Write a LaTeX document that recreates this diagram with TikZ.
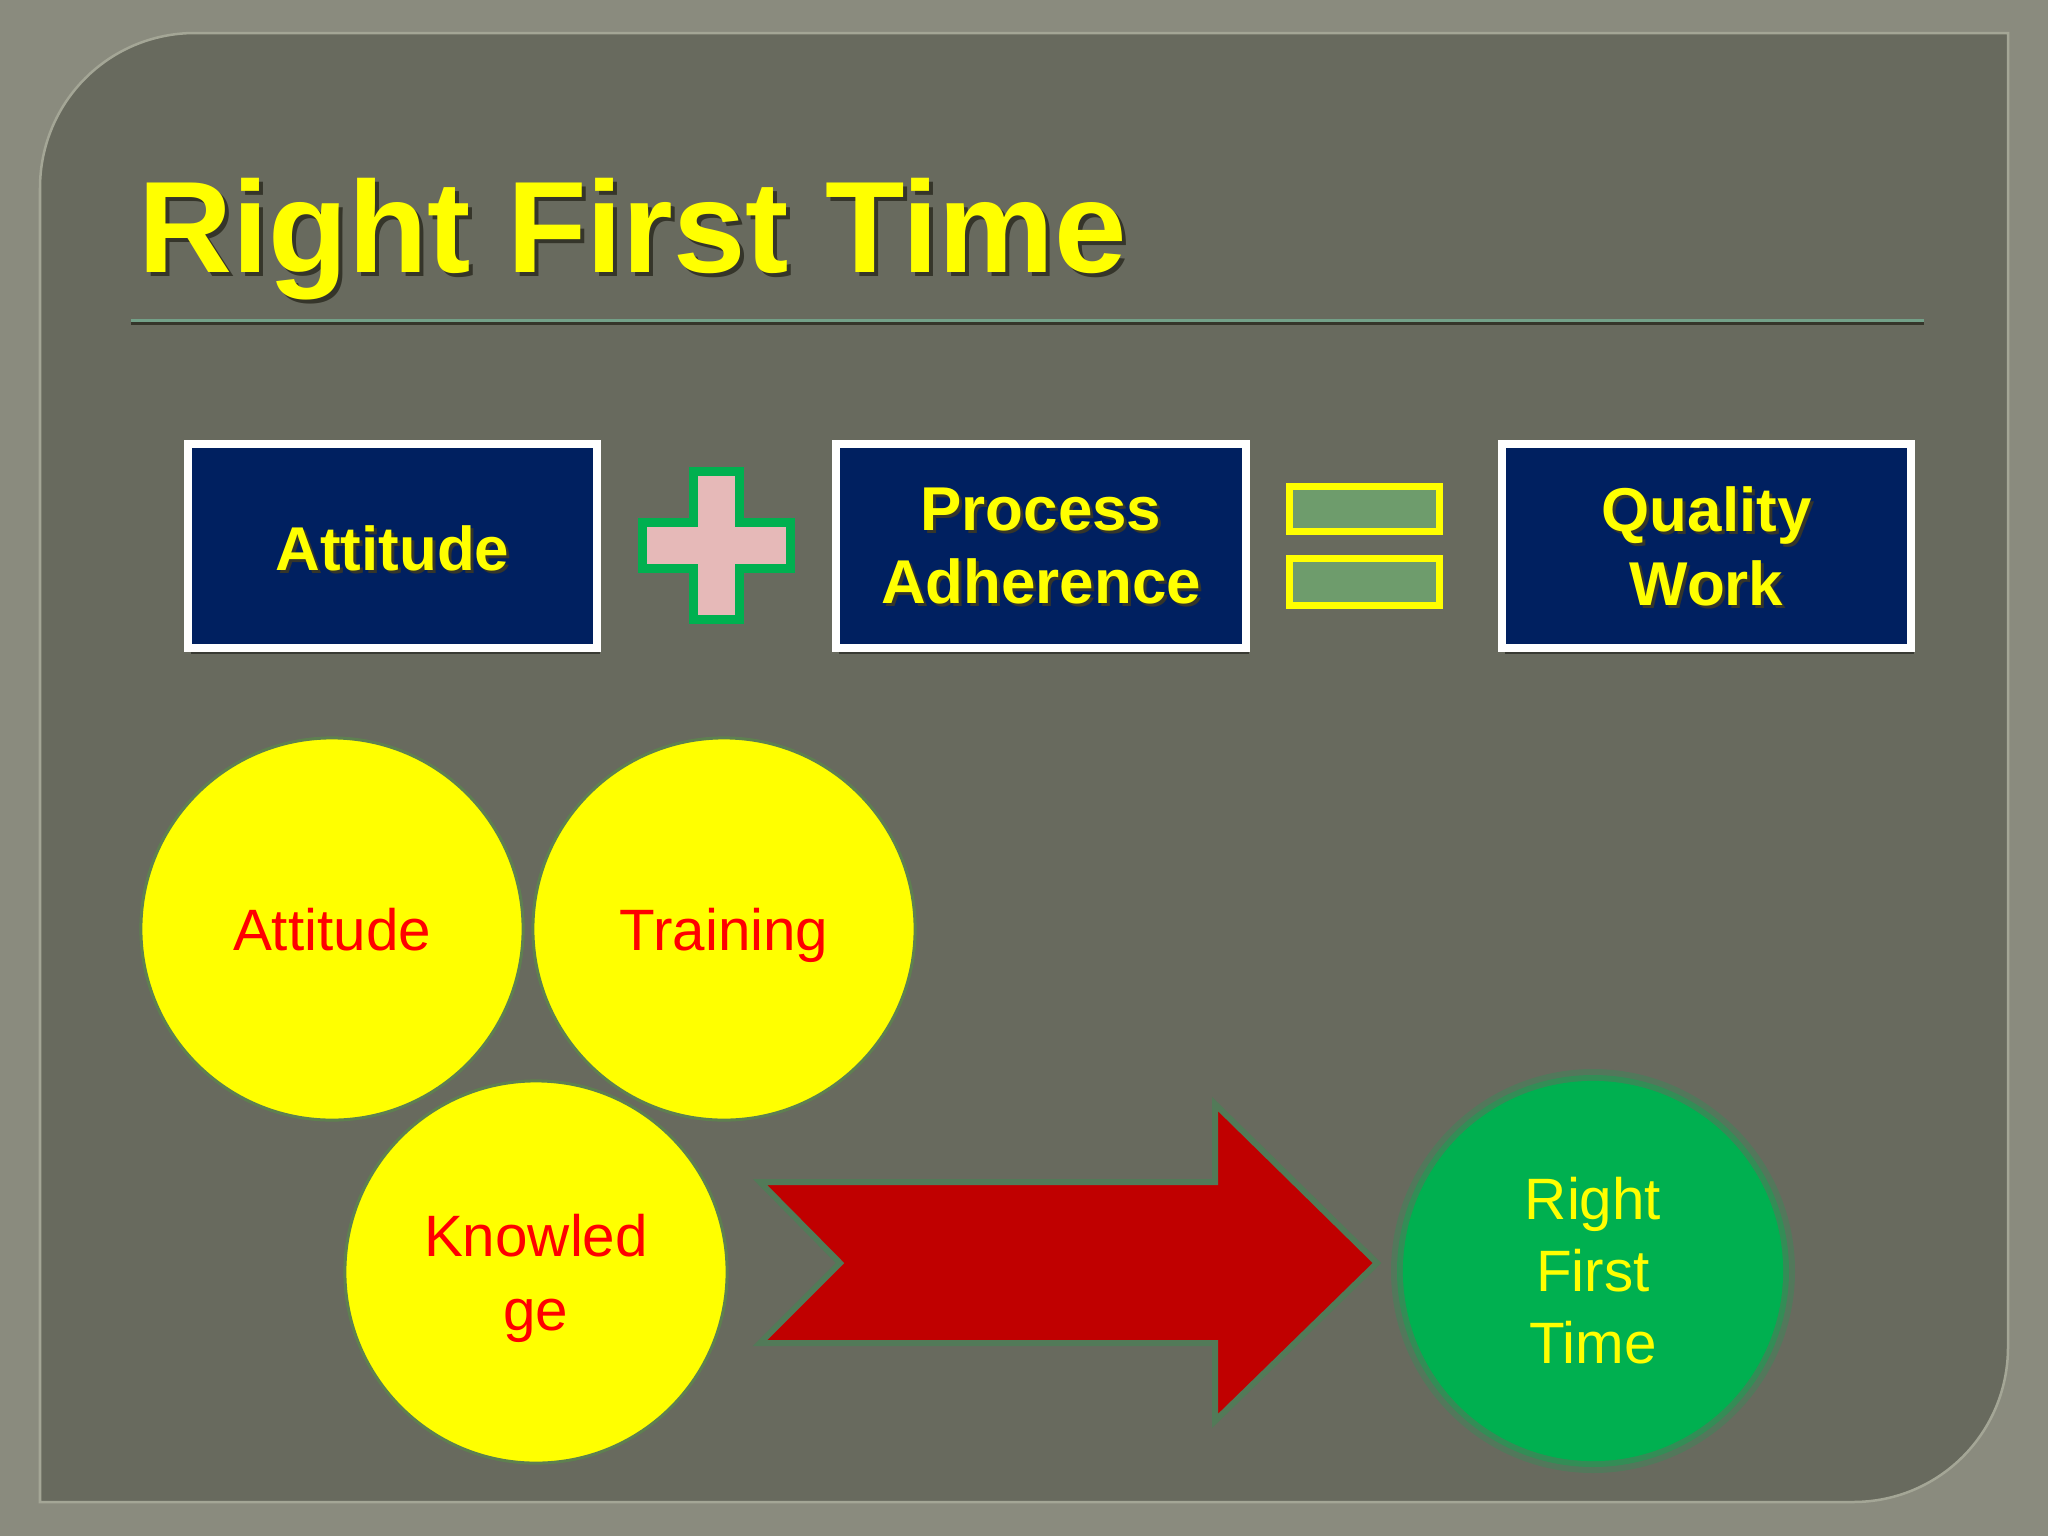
\documentclass[tikz,border=0pt]{standalone}
\usepackage{fontspec}
\setmainfont{Liberation Sans}
\usetikzlibrary{shadows}
\definecolor{outerbg}{HTML}{8A8B7E}
\definecolor{panelc}{HTML}{686A5E}
\definecolor{paneledge}{HTML}{A4A696}
\definecolor{navy}{HTML}{002060}
\definecolor{ylw}{HTML}{FFFF00}
\definecolor{shadowc}{HTML}{35352A}
\definecolor{rulegreen}{HTML}{73A088}
\definecolor{plusgreen}{HTML}{00B050}
\definecolor{pluspink}{HTML}{E6B9B8}
\definecolor{eqfill}{HTML}{6E9C6C}
\definecolor{arrowred}{HTML}{C00000}
\definecolor{arrowedge}{HTML}{527A58}
\definecolor{circedge}{HTML}{5E8050}
\definecolor{rftgreen}{HTML}{00B050}
\definecolor{txtred}{HTML}{FF0000}
\begin{document}
\begin{tikzpicture}[x=0.01cm,y=-0.01cm,
  px/.style={line width=#1*0.2845pt},
  ttl/.style={font=\fontsize{37}{44}\selectfont\bfseries, anchor=base west, inner sep=0pt},
  bluebox/.style={rectangle, fill=navy, draw=white, px=8, minimum width=4.09cm, minimum height=2.04cm, inner sep=0pt,
     drop shadow={shadow xshift=0.03cm, shadow yshift=-0.06cm, opacity=0.45, fill=black}},
  boxtxt/.style={font=\fontsize{17.6}{21}\selectfont\bfseries, text=ylw, align=center, inner sep=0pt},
  boxtxtsh/.style={boxtxt, text=shadowc},
  ycirc/.style={circle, fill=ylw, draw=circedge, px=3, minimum size=3.82cm, inner sep=0pt,
     font=\fontsize{16.6}{21}\selectfont, text=txtred, align=center, text depth=0pt},
  gcirc/.style={circle, fill=rftgreen, minimum size=3.8cm, inner sep=0pt,
     font=\fontsize{16.6}{20.5}\selectfont, text=ylw, align=center}]
\useasboundingbox (0,0) rectangle (2048,1536);
\fill[outerbg] (0,0) rectangle (2048,1536);
% panel
\fill[panelc, draw=paneledge, px=2.5] (40,1502) -- (40,188) .. controls (40,102) and (109,33) .. (195,33)
  -- (2008,33) -- (2008,1347) .. controls (2008,1433) and (1939,1502) .. (1853,1502) -- cycle;
% title
\node[ttl, text=shadowc] (titlesh) at (142,276) {Right First Time};
\node[ttl, text=ylw] (title) at (138,272) {Right First Time};
\draw[shadowc, px=3] (131,323) -- (1924,323);
\draw[rulegreen, px=3] (131,320) -- (1924,320);
% boxes
\node[bluebox] (b1) at (392.5,546) {};
\node[bluebox] (b2) at (1041,546) {};
\node[bluebox] (b3) at (1706.5,546) {};
\node[boxtxtsh] (t1s) at ([shift={(0.03cm,-0.05cm)}]b1.center) {Attitude};
\node[boxtxt] (t1) at ([shift={(0cm,-0.02cm)}]b1.center) {Attitude};
\node[boxtxtsh] (t2s) at ([shift={(0.03cm,-0.03cm)}]b2.center) {Process\\Adherence};
\node[boxtxt] (t2) at (b2.center) {Process\\Adherence};
\node[boxtxtsh] (t3s) at ([shift={(0.03cm,-0.03cm)}]b3.center) {Quality\\Work};
\node[boxtxt] (t3) at (b3.center) {Quality\\Work};
% plus sign
\filldraw[fill=pluspink, draw=plusgreen, px=9, line join=miter]
  (693,471) -- (739,471) -- (739,522) -- (790,522) -- (790,568) -- (739,568) -- (739,619)
  -- (693,619) -- (693,568) -- (642,568) -- (642,522) -- (693,522) -- cycle;
% equals sign
\filldraw[fill=eqfill, draw=ylw, px=7] (1289.5,486.5) rectangle (1439.5,531.5);
\filldraw[fill=eqfill, draw=ylw, px=7] (1289.5,558.5) rectangle (1439.5,605.5);
% circles
\node[ycirc] (c1) at (332,929) {Attitude};
\node[ycirc] (c2) at (724,929) {Training};
\node[ycirc] (c3) at (536,1272) {Knowled\\ge};
% arrow
\filldraw[fill=arrowred, draw=arrowedge, px=6, line join=miter]
  (760,1182) -- (1215,1182) -- (1215,1104) -- (1377,1263) -- (1215,1421) -- (1215,1343)
  -- (760,1343) -- (840,1263) -- cycle;
% right first time circle with glow
\fill[rftgreen!60!panelc, opacity=0.35] (1593,1271) circle (202);
\fill[rftgreen!70!panelc, opacity=0.6] (1593,1271) circle (196);
\node[gcirc] (rft) at (1593,1271) {Right\\First\\Time};
\end{tikzpicture}
\end{document}
